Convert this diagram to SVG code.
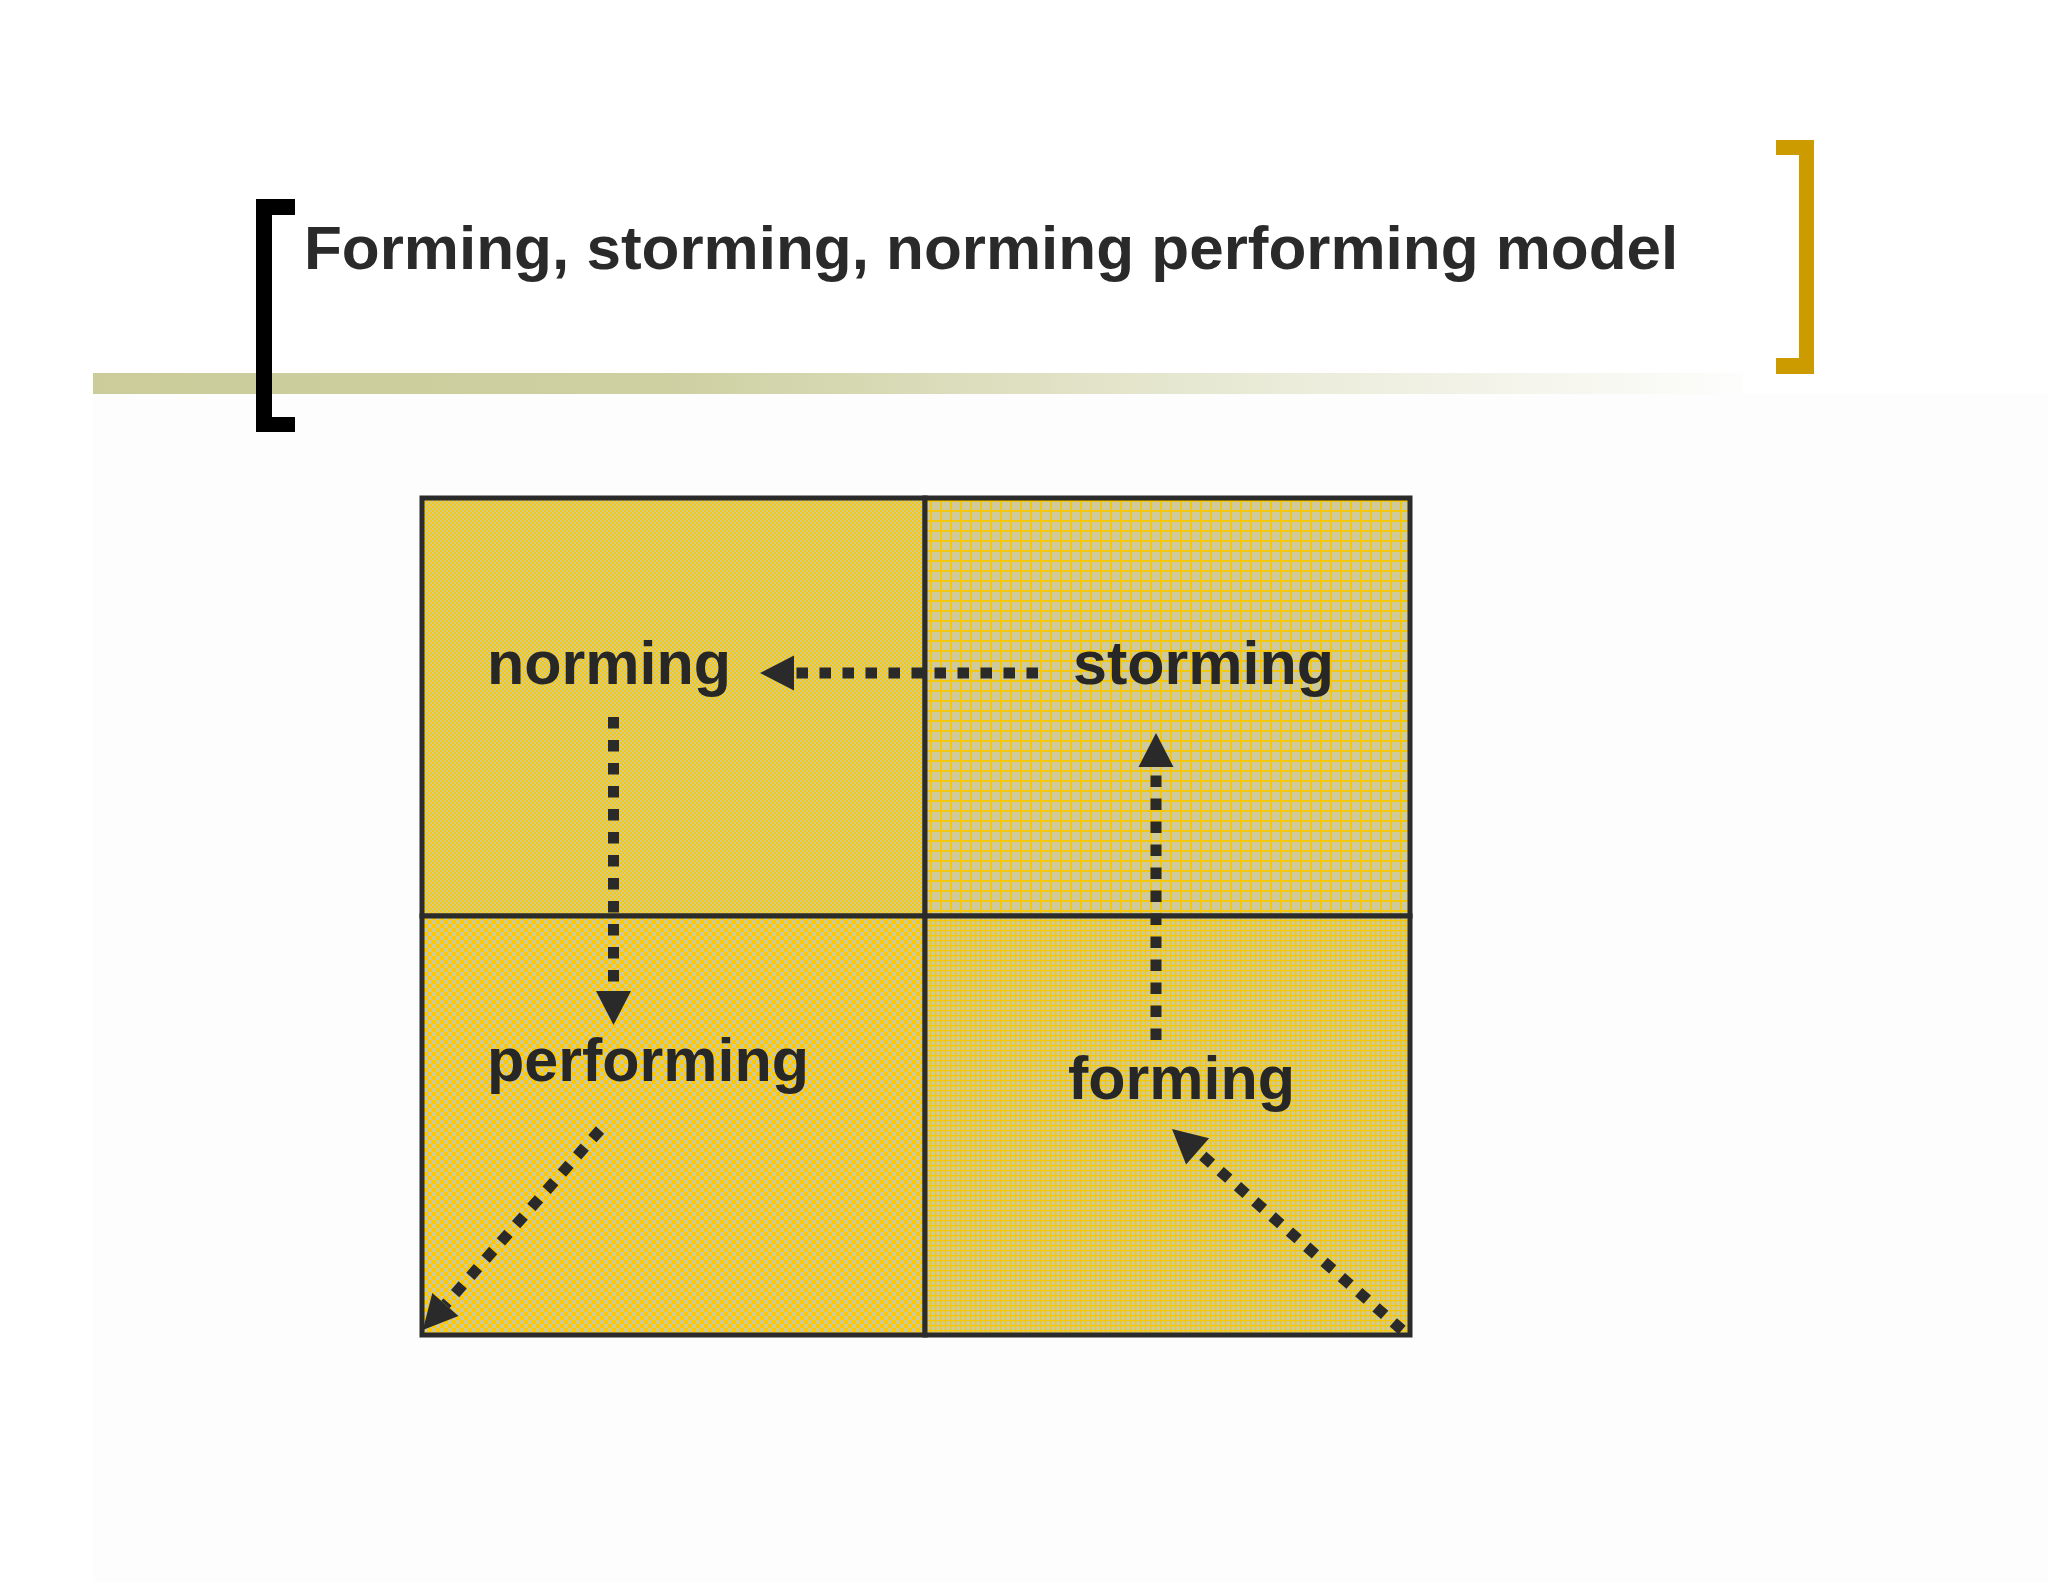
<svg xmlns="http://www.w3.org/2000/svg" width="2048" height="1582" viewBox="0 0 2048 1582">
<style>
.lbl{font-family:"Liberation Sans",Arial,sans-serif;font-weight:bold;font-size:61px;fill:#272727}
.title{font-family:"Liberation Sans",Arial,sans-serif;font-weight:bold;font-size:62px;fill:#2a2a2a}
.conn{fill:none;stroke:#2a2a2a;stroke-width:11;stroke-dasharray:11.5 11.5}
.cell{stroke:#2b2b2b;stroke-width:5}
</style>
<defs>
<linearGradient id="bar" x1="0" y1="0" x2="1" y2="0">
<stop offset="0" stop-color="#CBCC9A"/>
<stop offset="0.35" stop-color="#CED0A2"/>
<stop offset="0.7" stop-color="#E9EAD6"/>
<stop offset="1" stop-color="#FDFDFC"/>
</linearGradient>
<pattern id="pTL" width="4" height="4" patternUnits="userSpaceOnUse">
<rect width="4" height="4" fill="#F6C810"/>
<rect width="2" height="2" fill="#D3CA8E"/>
<rect x="2" y="2" width="2" height="2" fill="#D3CA8E"/>
</pattern>
<pattern id="pBL" width="8" height="8" patternUnits="userSpaceOnUse">
<rect width="8" height="8" fill="#FFC900"/>
<rect width="4" height="4" fill="#CFC99A"/>
<rect x="4" y="4" width="4" height="4" fill="#CFC99A"/>
</pattern>
<pattern id="pTR" width="10" height="10" patternUnits="userSpaceOnUse">
<rect width="10" height="10" fill="#CECA9B"/>
<rect width="10" height="1.8" fill="#F8C700"/>
<rect width="1.8" height="10" fill="#F8C700"/>
</pattern>
<pattern id="pBR" width="5" height="5" patternUnits="userSpaceOnUse">
<rect width="5" height="5" fill="#D0CA96"/>
<rect width="5" height="1.3" fill="#F8C700"/>
<rect width="1.3" height="5" fill="#F8C700"/>
</pattern>
<marker id="head" markerUnits="userSpaceOnUse" markerWidth="36" markerHeight="36" refX="0" refY="17.5" orient="auto" overflow="visible">
<path d="M0,0 L34,17.5 L0,35 Z" fill="#2a2a2a"/>
</marker>
</defs>
<rect width="2048" height="1582" fill="#ffffff"/>
<rect x="93" y="394" width="1955" height="1188" fill="#fdfdfd"/>
<g id="header">
<rect x="93" y="373" width="1650" height="21" fill="url(#bar)"/>
<path d="M256,199 H295 V215 H272 V417 H295 V432 H256 Z" fill="#000000"/>
<path d="M1776,140 H1814 V374 H1776 V358 H1799 V155 H1776 Z" fill="#CB9B00"/>
<text class="title" x="304" y="269">Forming, storming, norming performing model</text>
</g>
<g id="node-norming">
<rect class="cell" x="422" y="498" width="503" height="418" fill="url(#pTL)"/>
<text class="lbl" x="487" y="684">norming</text>
</g>
<g id="node-storming">
<rect class="cell" x="925" y="498" width="485" height="418" fill="url(#pTR)"/>
<text class="lbl" x="1073" y="684">storming</text>
</g>
<g id="node-performing">
<rect class="cell" x="422" y="916" width="503" height="419" fill="url(#pBL)"/>
<text class="lbl" x="487" y="1081">performing</text>
</g>
<g id="node-forming">
<rect class="cell" x="925" y="916" width="485" height="419" fill="url(#pBR)"/>
<text class="lbl" x="1068" y="1099">forming</text>
</g>
<g id="connectors">
<path class="conn" d="M1038,673 H794" marker-end="url(#head)"/>
<path class="conn" d="M613.5,717 V991" marker-end="url(#head)"/>
<path class="conn" d="M1156,1040 V767" marker-end="url(#head)"/>
<path class="conn" d="M600,1130 L445.4,1304.5" marker-end="url(#head)"/>
<path class="conn" d="M1402,1330 L1197.6,1151.4" marker-end="url(#head)"/>
</g>
</svg>
